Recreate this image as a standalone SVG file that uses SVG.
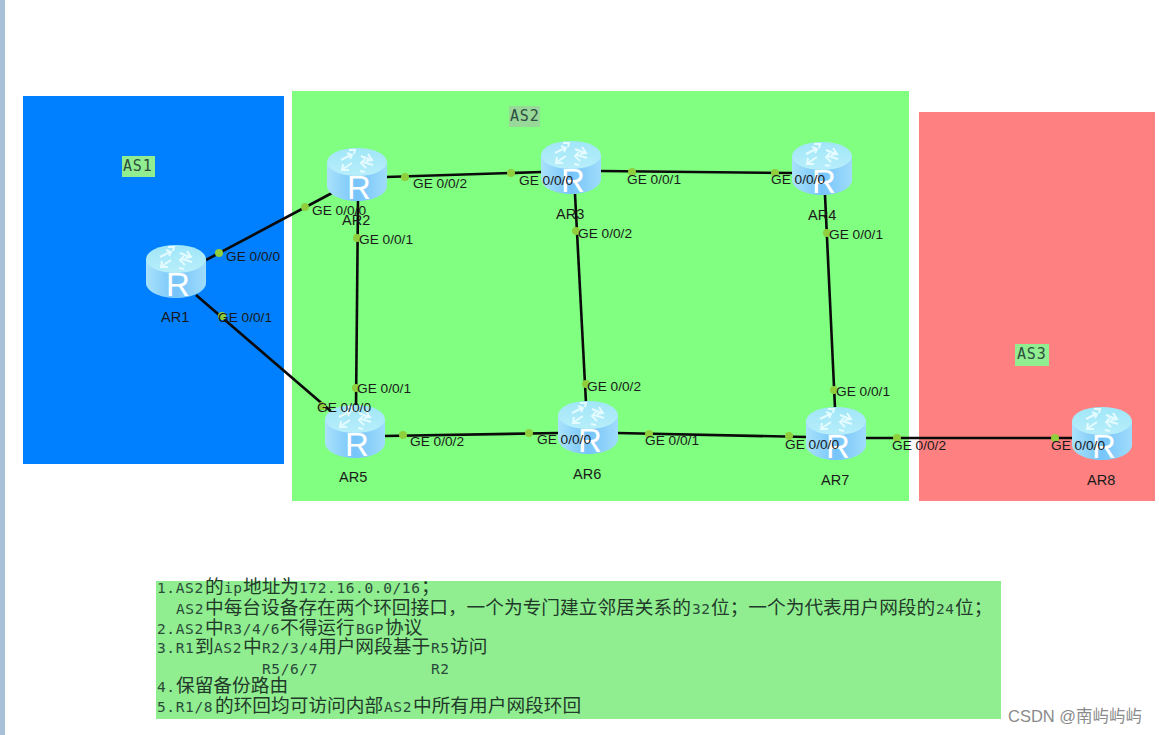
<svg xmlns="http://www.w3.org/2000/svg" width="1159" height="735" viewBox="0 0 1159 735">
<style>
.l{font-family:"Liberation Sans",Arial,sans-serif;font-size:13.7px;fill:#1a1a1a}
.n{font-family:"Liberation Sans",Arial,sans-serif;font-size:14.5px;fill:#1a1a1a}
.a{font-family:"DejaVu Sans Mono","Liberation Mono",monospace;font-size:15px;letter-spacing:0.8px;fill:#2f4f3f}
.c{stroke:#0a0a0a;stroke-width:2.6;fill:none}
.d{fill:#8fce3c}
.t{font-family:"DejaVu Sans Mono","Noto Sans CJK SC",monospace;font-size:14.5px;letter-spacing:0.62px;fill:#2a4a3a}
.t .z{font-family:"Noto Sans CJK SC",sans-serif;font-size:18.7px;letter-spacing:0;fill:#223a2a}
</style>
<defs>
<linearGradient id="body" x1="0" x2="1" y1="0" y2="0">
<stop offset="0" stop-color="#a9e2fb"/><stop offset="0.5" stop-color="#76c4fa"/><stop offset="1" stop-color="#a0dcfb"/>
</linearGradient>
<linearGradient id="top" x1="0" x2="0" y1="0" y2="1">
<stop offset="0" stop-color="#a0e6f8"/><stop offset="1" stop-color="#b8eefa"/>
</linearGradient>
<symbol id="router" width="60" height="54" viewBox="0 0 60 54" overflow="visible">
<path d="M0,14V38C0,46 13,53 30,53S60,46 60,38V14Z" fill="url(#body)"/>
<ellipse cx="30" cy="14" rx="30" ry="14" fill="url(#top)"/>
<g stroke="#e4fbff" stroke-width="2" fill="none" stroke-linejoin="miter">
<path d="M14,12l10-5M20,5l5,2-2,4"/>
<path d="M34,8l10,4M41,6l4,6-6,1"/>
<path d="M46,17l-10-3M39,20l-5-5 4-4"/>
<path d="M25,15l-9,6M16,16l-1,6 7,0"/>
<path d="M22,2h6l-1,4M38,24l-5-1"/>
</g>
<text x="32" y="51" text-anchor="middle" font-family="Liberation Sans,Arial,sans-serif" font-size="33" fill="#fff">R</text>
</symbol>
</defs>
<rect width="1159" height="735" fill="#fff"/>
<rect x="0" y="0" width="5" height="735" fill="#a8c0d8"/>
<rect x="23" y="96" width="261" height="368" fill="#0080ff"/>
<rect x="292" y="91" width="617" height="410" fill="#80ff80"/>
<rect x="919" y="112" width="236" height="389" fill="#ff8080"/>
<rect x="156" y="581" width="845" height="138" fill="#90ee90"/>

<g id="connectors">
<path class="c" d="M206,260L332,193"/>
<path class="c" d="M196,295L333,413"/>
<path class="c" d="M358,200L356,408"/>
<path class="c" d="M386,177L542,172"/>
<path class="c" d="M600,171L793,173"/>
<path class="c" d="M575,194L586,403"/>
<path class="c" d="M825,195L835,408"/>
<path class="c" d="M384,436L559,433"/>
<path class="c" d="M617,433L807,437"/>
<path class="c" d="M865,438L1073,438"/>
</g>

<g id="AR1"><use href="#router" x="146" y="245"/><text class="n" x="161" y="322">AR1</text></g>
<g id="AR2"><use href="#router" x="327" y="148"/><text class="n" x="342" y="225">AR2</text></g>
<g id="AR3"><use href="#router" x="541" y="141"/><text class="n" x="556" y="219">AR3</text></g>
<g id="AR4"><use href="#router" x="792" y="142"/><text class="n" x="808" y="220">AR4</text></g>
<g id="AR5"><use href="#router" x="325" y="405"/><text class="n" x="339" y="482">AR5</text></g>
<g id="AR6"><use href="#router" x="558" y="401"/><text class="n" x="573" y="479">AR6</text></g>
<g id="AR7"><use href="#router" x="806" y="407"/><text class="n" x="821" y="485">AR7</text></g>
<g id="AR8"><use href="#router" x="1072" y="407"/><text class="n" x="1087" y="485">AR8</text></g>

<g id="ports">
<circle class="d" cx="219" cy="253" r="4"/><text class="l" x="226" y="261">GE 0/0/0</text>
<circle class="d" cx="222" cy="316" r="4"/><text class="l" x="218" y="322">GE 0/0/1</text>
<circle class="d" cx="305" cy="207" r="4"/><text class="l" x="312" y="215">GE 0/0/0</text>
<circle class="d" cx="357" cy="238" r="4"/><text class="l" x="359" y="244">GE 0/0/1</text>
<circle class="d" cx="405" cy="177" r="4"/><text class="l" x="413" y="188">GE 0/0/2</text>
<circle class="d" cx="511" cy="173" r="4"/><text class="l" x="519" y="185">GE 0/0/0</text>
<circle class="d" cx="632" cy="172" r="4"/><text class="l" x="627" y="184">GE 0/0/1</text>
<circle class="d" cx="775" cy="173" r="4"/><text class="l" x="771" y="184">GE 0/0/0</text>
<circle class="d" cx="576" cy="231" r="4"/><text class="l" x="578" y="238">GE 0/0/2</text>
<circle class="d" cx="827" cy="233" r="4"/><text class="l" x="829" y="239">GE 0/0/1</text>
<circle class="d" cx="356" cy="388" r="4"/><text class="l" x="357" y="393">GE 0/0/1</text>
<circle class="d" cx="322" cy="406" r="4"/><text class="l" x="317" y="412">GE 0/0/0</text>
<circle class="d" cx="403" cy="435" r="4"/><text class="l" x="410" y="446">GE 0/0/2</text>
<circle class="d" cx="529" cy="433" r="4"/><text class="l" x="537" y="444">GE 0/0/0</text>
<circle class="d" cx="586" cy="384" r="4"/><text class="l" x="587" y="391">GE 0/0/2</text>
<circle class="d" cx="649" cy="434" r="4"/><text class="l" x="645" y="445">GE 0/0/1</text>
<circle class="d" cx="789" cy="436" r="4"/><text class="l" x="785" y="449">GE 0/0/0</text>
<circle class="d" cx="834" cy="390" r="4"/><text class="l" x="836" y="396">GE 0/0/1</text>
<circle class="d" cx="897" cy="438" r="4"/><text class="l" x="892" y="450">GE 0/0/2</text>
<circle class="d" cx="1055" cy="438" r="4"/><text class="l" x="1051" y="450">GE 0/0/0</text>
</g>

<g id="labels">
<rect x="122" y="156" width="33" height="21" fill="#90ee90"/><text class="a" x="123" y="171">AS1</text>
<rect x="509" y="106" width="31" height="21" fill="#98d898"/><text class="a" x="510" y="121">AS2</text>
<rect x="1015" y="344" width="34" height="22" fill="#90ee90"/><text class="a" x="1017" y="359">AS3</text>
</g>

<g id="notes">
<text class="t" y="593"><tspan x="157">1.AS2</tspan><tspan x="205" class="z">的</tspan><tspan x="224">ip</tspan><tspan x="243" class="z">地址为</tspan><tspan x="299">172.16.0.0/16</tspan><tspan x="421" class="z">；</tspan></text>
<text class="t" y="614"><tspan x="176">AS2</tspan><tspan x="205" class="z">中每台设备存在两个环回接口，一个为专门建立邻居关系的</tspan><tspan x="692">32</tspan><tspan x="711" class="z">位；一个为代表用户网段的</tspan><tspan x="936">24</tspan><tspan x="955" class="z">位；</tspan></text>
<text class="t" y="634"><tspan x="157">2.AS2</tspan><tspan x="205" class="z">中</tspan><tspan x="224">R3/4/6</tspan><tspan x="280" class="z">不得运行</tspan><tspan x="356">BGP</tspan><tspan x="385" class="z">协议</tspan></text>
<text class="t" y="653"><tspan x="157">3.R1</tspan><tspan x="195" class="z">到</tspan><tspan x="214">AS2</tspan><tspan x="243" class="z">中</tspan><tspan x="262">R2/3/4</tspan><tspan x="318" class="z">用户网段基于</tspan><tspan x="431">R5</tspan><tspan x="450" class="z">访问</tspan></text>
<text class="t" y="674"><tspan x="262">R5/6/7</tspan><tspan x="431">R2</tspan></text>
<text class="t" y="692"><tspan x="157">4.</tspan><tspan x="176" class="z">保留备份路由</tspan></text>
<text class="t" y="712"><tspan x="157">5.R1/8</tspan><tspan x="215" class="z">的环回均可访问内部</tspan><tspan x="384">AS2</tspan><tspan x="413" class="z">中所有用户网段环回</tspan></text>
</g>
<text x="1008" y="722" font-family="Liberation Sans,'Noto Sans CJK SC',sans-serif" font-size="16.5" fill="#8a8a8a">CSDN @南屿屿屿</text>
</svg>
